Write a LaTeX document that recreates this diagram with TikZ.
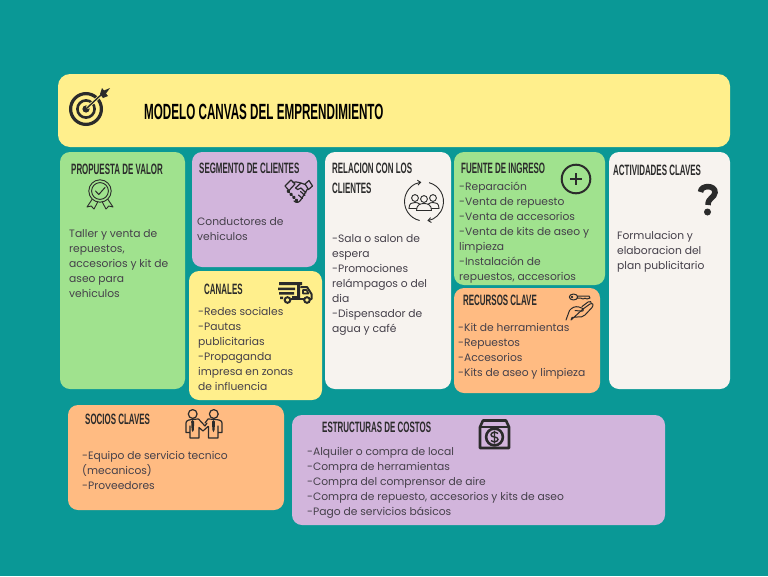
\documentclass[tikz,border=0pt]{standalone}
\usepackage{fontspec}
\usetikzlibrary{arrows.meta}
\setmainfont{Poppins}
\newfontfamily\hfont[FakeStretch=0.53]{Liberation Sans}
\definecolor{bgc}{HTML}{0A9896}
\definecolor{yel}{HTML}{FFEF8C}
\definecolor{grn}{HTML}{A0E28E}
\definecolor{pur}{HTML}{D2B5DC}
\definecolor{wht}{HTML}{F7F3EF}
\definecolor{org}{HTML}{FFBB82}
\definecolor{ink}{HTML}{2B2B2B}
\definecolor{txt}{HTML}{45404A}
\newcommand\fl{\rule{0pt}{10pt}}
\tikzset{
 x=1pt,y=-1pt,
 card/.style={rounded corners=10pt},
 head/.style={anchor=base west,inner sep=0pt,text=ink,font=\hfont\bfseries\fontsize{15}{20}\selectfont},
 headtwo/.style={anchor=north west,inner sep=0pt,align=left,text=ink,font=\hfont\bfseries\fontsize{15}{20}\selectfont},
 body/.style={anchor=north west,inner sep=0pt,align=left,text=txt,font=\fontsize{10.72}{15}\selectfont},
 ico/.style={draw=ink,line width=1pt,line cap=round,line join=round},
 icb/.style={draw=ink,line width=2.4pt,line cap=round,line join=round},
}
\begin{document}
\begin{tikzpicture}
\useasboundingbox (0,0) rectangle (768,576);
\fill[bgc] (0,0) rectangle (768,576);
% cards
\fill[yel,card,rounded corners=12pt] (58,74) rectangle (730,147);
\fill[grn,card] (60,152) rectangle (185,389);
\fill[pur,card] (192,152) rectangle (317,267);
\fill[wht,card] (325,152) rectangle (451,389);
\fill[grn,card] (454,152) rectangle (605,285);
\fill[org,card] (454,288) rectangle (600,393);
\fill[wht,card] (609,152) rectangle (730,389);
\fill[yel,card] (189,271) rectangle (322,400);
\fill[org,card] (68,405) rectangle (284,510);
\fill[pur,card] (292,415) rectangle (665,525);
% headings
\node[anchor=base west,inner sep=0pt,text=black,font=\hfont\bfseries\fontsize{22}{24}\selectfont] (title) at (144,119.5) {MODELO CANVAS DEL EMPRENDIMIENTO};
\node[head] (h1) at (71,174) {PROPUESTA DE VALOR};
\node[head] (h2) at (199,173) {SEGMENTO DE CLIENTES};
\node[headtwo] (h3) at (332,163) {\fl RELACION CON LOS\\CLIENTES};
\node[head] (h4) at (461,173) {FUENTE DE INGRESO};
\node[head] (h5) at (613,175) {ACTIVIDADES CLAVES};
\node[head] (h6) at (204,294) {CANALES};
\node[head] (h7) at (463,305) {RECURSOS CLAVE};
\node[head] (h8) at (85,424) {SOCIOS CLAVES};
\node[head] (h9) at (322,432) {ESTRUCTURAS DE COSTOS};
% bodies
\node[body] (b1) at (69,227) {\fl Taller y venta de\\repuestos,\\accesorios y kit de\\aseo para\\vehiculos};
\node[body] (b2) at (197,215) {\fl Conductores de\\vehiculos};
\node[body] (b3) at (332,232) {\fl -Sala o salon de\\espera\\-Promociones\\relámpagos o del\\dia\\-Dispensador de\\agua y café};
\node[body] (b4) at (459,180) {\fl -Reparación\\-Venta de repuesto\\-Venta de accesorios\\-Venta de kits de aseo y\\limpieza\\-Instalación de\\repuestos, accesorios};
\node[body] (b5) at (198,305) {\fl -Redes sociales\\-Pautas\\publicitarias\\-Propaganda\\impresa en zonas\\de influencia};
\node[body] (b6) at (458,321) {\fl -Kit de herramientas\\-Repuestos\\-Accesorios\\-Kits de aseo y limpieza};
\node[body] (b7) at (617,229) {\fl Formulacion y\\elaboracion del\\plan publicitario};
\node[body] (b8) at (82,449) {\fl -Equipo de servicio tecnico\\(mecanicos)\\-Proveedores};
\node[body] (b9) at (307,445) {\fl -Alquiler o compra de local\\-Compra de herramientas\\-Compra del comprensor de aire\\-Compra de repuesto, accesorios y kits de aseo\\-Pago de servicios básicos};
% target icon
\draw[ink,line width=3.2pt] (86,109) circle (15.4);
\draw[ink,line width=2.6pt] (86,109) circle (8.6);
\fill[ink] (86,109) circle (3.6);
\draw[yel,line width=3pt] (87,108) -- (101,95);
\draw[ink,line width=1.4pt] (87,108) -- (103,93);
\fill[ink] (100,94) -- (102,88) -- (104,90.5) -- (110,88) -- (106,93.5) -- (108,96) -- (103,98) -- cycle;
% medal
\draw[ico,line width=.9pt] (100,191) circle (11.2);
\draw[ico,line width=.9pt] (100,191) circle (8.4);
\draw[ico] (95.5,191) -- (98.8,194.5) -- (105,187.5);
\draw[ico,line width=.9pt] (92,199.5) -- (87,207) -- (91.2,206) -- (94,209) -- (97.5,202.5);
\draw[ico,line width=.9pt] (108,199.5) -- (113,207) -- (108.8,206) -- (106,209) -- (102.5,202.5);
% handshake
\draw[ico,line width=1.2pt] (285,186) -- (291,180) -- (295,184) -- (289,190.5) -- cycle;
\draw[ico,line width=1.2pt] (305,184) -- (309,180.5) -- (312.5,186) -- (308.5,189.5) -- cycle;
\draw[ico,line width=1.2pt] (293,182.5) .. controls (297,181) and (299,183) .. (301,183) -- (305,184.5)
 (307.5,189) -- (302,198) .. controls (300,202) and (297,204) .. (294,201)
 (301,183) -- (295.5,188) .. controls (296,190) and (299,190) .. (301,188) -- (306,193)
 (305,195.5) -- (300.5,191.5) (302.5,198.5) -- (298.5,195);
\draw[ink,line width=3pt,line cap=round,dash pattern=on 1.2pt off 2.8pt] (288,191) -- (298,202);
% group icon
\draw[ink,line width=.9pt,-{Straight Barb[length=3pt,width=5pt]}] (424,201.5) ++(103:19.5) arc[start angle=103,end angle=262,radius=19.5];
\draw[ink,line width=.9pt,-{Straight Barb[length=3pt,width=5pt]}] (424,201.5) ++(-75:19.5) arc[start angle=-75,end angle=80,radius=19.5];
\draw[ico,line width=.9pt] (415,198) circle (3.4) (424,199) circle (3.4) (433,198) circle (3.4);
\draw[ico,line width=.9pt] (409,208.5) .. controls (409,203) and (412,202.5) .. (415,202.5) .. controls (417,202.5) and (418.5,203) .. (419.5,204);
\draw[ico,line width=.9pt] (439,208.5) .. controls (439,203) and (436,202.5) .. (433,202.5) .. controls (431,202.5) and (429.5,203) .. (428.5,204);
\draw[ico,line width=.9pt] (416.5,210.5) .. controls (416.5,205) and (420,203.5) .. (424,203.5) .. controls (428,203.5) and (431.5,205) .. (431.5,210.5) -- cycle;
\draw[ico,line width=.9pt] (409,208.5) -- (416.5,208.5) (439,208.5) -- (431.5,208.5);
% plus
\draw[ink,line width=2pt] (576,179) circle (14.3);
\draw[ink,line width=2pt] (570,179) -- (582,179) (576,173) -- (576,185);
% key and hand
\draw[ico,line width=1pt] (573.5,297) ellipse (4.2 and 3);
\draw[ico,line width=.8pt] (572,297) circle (.9);
\draw[ico,line width=1pt] (577.5,296) -- (589,296) -- (590,298) -- (587,299) -- (585,298.2) -- (583,299) -- (581,298.2) -- (577,298.2);
\draw[ico,line width=1pt] (566,320) -- (569.5,310.5) .. controls (572,307.5) and (575,306) .. (579,307) -- (583,308.5) .. controls (584.5,310.5) and (583,311.5) .. (580,311) -- (575,310.5);
\draw[ico,line width=1pt] (583,309) -- (590,304) .. controls (593,302.5) and (594,305) .. (592,307.5) -- (585,315) .. controls (583,317.5) and (580,317) .. (577,317) -- (572,317.5) -- (571,320) -- cycle;
\draw[ico,line width=1pt] (582,306.5) -- (588,302) .. controls (590,300.5) and (592,302) .. (591.3,303.5);
% truck
\fill[ink] (279,282) -- (302,282) -- (302,285) -- (300,285) -- (300,298) -- (292,298) -- (292,296) -- (297,296) -- (297,285) -- (279,285) -- cycle;
\fill[ink] (278,287.5) rectangle (295,290) (279,292) rectangle (294,294.5) (280,296.5) rectangle (283,299);
\draw[icb,line width=2pt] (301,287) -- (307,287) -- (311.5,294) -- (311.5,299) -- (310.5,299);
\draw[icb,line width=1.6pt] (303,290) -- (306.5,290) -- (308.5,293.5) -- (303,293.5) -- cycle;
\draw[ink,line width=2pt] (287.5,300) circle (2.8) (307,300) circle (2.8);
\draw[ink,line width=2pt] (291,298.5) -- (303.5,298.5);
% socios
\draw[ico,line width=1.2pt] (192.7,414) circle (4.4) (213.8,414) circle (4.4);
\draw[ico,line width=1.2pt] (186,432.5) -- (186,423) .. controls (186,420) and (189,419.5) .. (198.5,419) -- (205,426)
 -- (207,423) (190,438) -- (190,426) (190,438) -- (199,438) -- (199,427.5) -- (203,431) -- (208,426.5)
 (186,432.5) -- (190,432.5) (199,432.5) -- (199,427.5);
\draw[ico,line width=1.2pt] (222,432.5) -- (222,423) .. controls (222,420) and (219,419.5) .. (208,419) -- (205,423)
 (218,438) -- (218,426) (218,438) -- (208.5,438) -- (208.5,426.5) (222,432.5) -- (218,432.5);
\fill[ink] (192.7,420) -- (194.2,421.5) -- (193.8,430) -- (192.7,432) -- (191.6,430) -- (191.2,421.5) -- cycle;
\fill[ink] (213.5,420) -- (215,421.5) -- (214.6,430) -- (213.5,432) -- (212.4,430) -- (212,421.5) -- cycle;
% question mark
\draw[ink,line width=5.6pt] (700.5,192) .. controls (701,184.5) and (715.5,185) .. (715,192.5) .. controls (714.5,198) and (708,197.5) .. (708,205);
\fill[ink] (707.5,212) circle (3.5);
% money box
\draw[ink,line width=2.6pt,line join=round] (483,420.5) -- (506,420.5) -- (509,427) -- (509,448) -- (480,448) -- (480,427) -- cycle;
\draw[ink,line width=1.4pt] (480,427) -- (509,427);
\draw[ink,line width=2.6pt] (494.5,437) circle (8.4);
\draw[ink,line width=1.4pt] (498,433.5) .. controls (496,431.5) and (491,432) .. (491,434.8) .. controls (491,438) and (498,436) .. (498,439.3) .. controls (498,442) and (493,442.5) .. (491,440.5) (494.5,430.5) -- (494.5,443.5);
\end{tikzpicture}
\end{document}
